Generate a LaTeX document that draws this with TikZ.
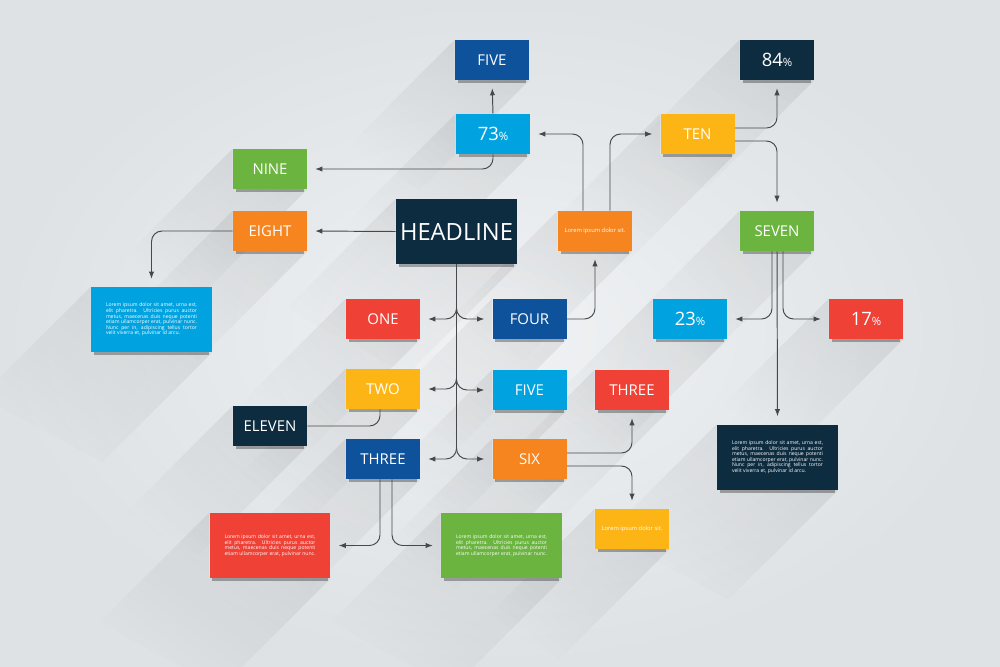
\documentclass[tikz,border=0pt]{standalone}
\usepackage{fontspec}
\setmainfont{Open Sans}
\usetikzlibrary{arrows.meta,calc,fadings}

\definecolor{navy}{RGB}{14,44,64}
\definecolor{dblue}{RGB}{13,82,155}
\definecolor{sky}{RGB}{0,163,224}
\definecolor{leaf}{RGB}{107,180,63}
\definecolor{tang}{RGB}{246,133,31}
\definecolor{gold}{RGB}{253,181,21}
\definecolor{tomato}{RGB}{239,65,54}
\definecolor{wirec}{RGB}{70,72,75}
\definecolor{bgin}{RGB}{240,242,244}
\definecolor{bgout}{RGB}{222,226,229}

\pgfdeclarelayer{bg}
\pgfdeclarelayer{shade}
\pgfsetlayers{bg,shade,main}
\tikzfading[name=longfade, left color=transparent!100, right color=transparent!0]

\tikzset{
  box/.style={fill=#1, text=white, minimum width=1.48cm, minimum height=0.8cm, inner sep=0pt, font=\fontsize{8.5}{10}\selectfont},
  pct/.style={box=#1, font=\fontsize{10.5}{12}\selectfont},
  bigbox/.style={fill=#1, text=white, minimum width=2.42cm, minimum height=1.3cm, inner sep=0pt, font=\fontsize{13.5}{15}\selectfont},
  note/.style={fill=#1, text=white, minimum width=2.42cm, minimum height=1.3cm, inner sep=0pt, text width=1.82cm, align=justify, font=\fontsize{2.9}{3.15}\selectfont},
  smallnote/.style={box=#1, font=\fontsize{3.3}{4}\selectfont},
  link/.style={draw=wirec, line width=0.55pt, rounded corners=6pt, -{Latex[length=4pt,width=3pt]}, shorten >=4.5pt},
  wire/.style={draw=wirec, line width=0.55pt, rounded corners=6pt},
}

\newcommand{\lorem}{\hyphenpenalty=10000 \exhyphenpenalty=10000 \tolerance=9999 Lorem ipsum dolor sit amet, urna est, elit pharetra. Ultricies purus auctor metus, maecenas duis neque potenti etiam ullamcorper erat, pulvinar nunc.}
\newcommand{\pc}{{\fontsize{6.5}{7}\selectfont\%}}

\begin{document}
\begin{tikzpicture}[x=0.02cm, y=-0.02cm]
\useasboundingbox (0,0) rectangle (1000,666);
\begin{pgfonlayer}{bg}
\fill[inner color=bgin, outer color=bgout] (0,0) rectangle (1000,666);
\end{pgfonlayer}

\node[box=dblue] (fivet) at (492,60) {FIVE};
\node[pct=sky] (p73) at (493,134) {73\pc};
\node[box=leaf] (nine) at (270,169) {NINE};
\node[box=tang] (eight) at (270,231) {EIGHT};
\node[bigbox=navy] (head) at (456.5,231.5) {HEADLINE};
\node[smallnote=tang] (lorema) at (595,231) {Lorem ipsum dolor sit.};
\node[box=gold] (ten) at (697.5,134) {TEN};
\node[pct=navy] (p84) at (777,60) {84\pc};
\node[box=leaf] (seven) at (777,231) {SEVEN};

\node[note=sky] (loremb) at (151.5,319.5) {\lorem{} Nunc per in, adipiscing tellus tortor velit viverra et, pulvinar id arcu.};
\node[box=tomato] (one) at (383,319) {ONE};
\node[box=dblue] (four) at (529.5,319) {FOUR};
\node[pct=sky] (p23) at (690,319) {23\pc};
\node[pct=tomato] (p17) at (866,319) {17\pc};

\node[box=gold] (two) at (383,389) {TWO};
\node[box=sky] (fivem) at (529.5,390) {FIVE};
\node[box=tomato] (threer) at (632,390) {THREE};
\node[box=navy] (eleven) at (270,426) {ELEVEN};
\node[box=dblue] (threeb) at (383,459) {THREE};
\node[box=tang] (six) at (529.5,459) {SIX};
\node[note=navy] (loremn) at (777.5,457) {\lorem{} Nunc per in, adipiscing tellus tortor velit viverra et, pulvinar id arcu.};

\node[note=tomato] (loremr) at (270,545.5) {\lorem};
\node[note=leaf] (loremg) at (501.5,545.5) {\lorem};
\node[smallnote=gold] (lorems) at (632,529) {Lorem ipsum dolor sit.};

\begin{pgfonlayer}{shade}
\foreach \n in {fivet,p73,nine,eight,head,lorema,ten,p84,seven,loremb,one,four,p23,p17,two,fivem,threer,eleven,threeb,six,loremn,loremr,loremg,lorems}{
  \fill[black, opacity=0.07, path fading=longfade, fading angle=45]
    (\n.north west) -- ++(-110,110) -- ($(\n.south east)+(-110,110)$) -- (\n.south east) -- (\n.south west) -- cycle;
  \fill[black, opacity=0.3] ($(\n.south west)+(3,0)$) rectangle ($(\n.south east)+(-3,3)$);
}
\end{pgfonlayer}

\draw[wire] (head.south) -- (head.south |- threeb.north);
\draw[link] (head.south |- one.north) |- (one);
\draw[link] (head.south |- four.north) |- (four);
\draw[link] (head.south |- two.north) |- (two);
\draw[link] (head.south |- fivem.north) |- (fivem);
\draw[link] (head.south |- threeb.north) |- (threeb);
\draw[link] (head.south |- six.north) |- (six);

\draw[link] (head.west) -- (eight.east);
\draw[link] (eight.west) -| (loremb.north);
\draw[link] (p73.south) |- (nine);
\draw[link] (p73.north) -- (fivet.south);
\draw[link] ($(lorema.north)+(-12,0)$) |- (p73);
\draw[link] ($(lorema.north)+(15,0)$) |- (ten);
\draw[link] (four.east) -| (lorema.south);
\draw[link] ($(ten.east)+(0,-6)$) -| (p84.south);
\draw[link] ($(ten.east)+(0,7)$) -| (seven.north);
\draw[link] ($(seven.south)+(-5,0)$) |- (p23);
\draw[link] ($(seven.south)+(6,0)$) |- (p17);
\draw[link] (seven.south) -- (loremn.north);

\draw[wire] ($(two.south)+(-3,0)$) |- (eleven.east);
\draw[link] ($(threeb.south)+(-3,0)$) |- (loremr);
\draw[link] ($(threeb.south)+(9,0)$) |- (loremg);
\draw[link] ($(six.east)+(0,-6)$) -| (threer.south);
\draw[link] ($(six.east)+(0,7)$) -| (lorems.north);
\end{tikzpicture}
\end{document}
